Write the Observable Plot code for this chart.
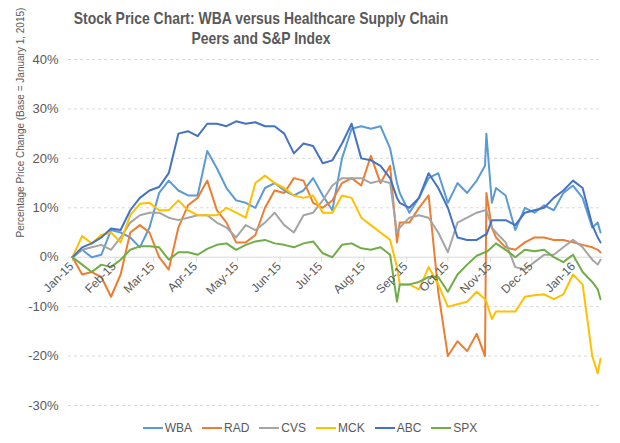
<!DOCTYPE html>
<html><head><meta charset="utf-8">
<script src="https://cdn.jsdelivr.net/npm/d3@7"></script>
<script src="https://cdn.jsdelivr.net/npm/@observablehq/plot@0.6"></script>
<style>
html,body{margin:0;padding:0;background:#fff;}
#wrap{position:relative;width:620px;height:443px;overflow:hidden;font-family:"Liberation Sans",Arial,sans-serif;background:#fff;}
#title{position:absolute;left:0;top:9px;width:522px;text-align:center;font-family:"Liberation Sans",Arial,sans-serif;font-weight:bold;font-size:17px;line-height:20px;color:#595959;white-space:nowrap;transform:scaleX(0.82);transform-origin:261px 0;}
#chart{position:absolute;left:0;top:50px;}
#legend{position:absolute;left:0;top:415px;width:620px;height:26px;display:flex;justify-content:center;align-items:center;font-size:12px;color:#595959;}
.item{display:flex;align-items:center;margin:0 5px;}
.swatch{width:20px;height:2px;margin-right:2px;}
</style></head><body>
<div id="wrap">
<div id="title">Stock Price Chart: WBA versus Healthcare Supply Chain<br>Peers and S&amp;P Index</div>
<div id="chart"></div>
<div id="legend"></div>
</div>
<script>
const dates = ["2015-01-01","2015-01-08","2015-01-15","2015-01-22","2015-01-29","2015-02-05","2015-02-12","2015-02-19","2015-02-26","2015-03-05","2015-03-12","2015-03-19","2015-03-26","2015-04-02","2015-04-09","2015-04-16","2015-04-23","2015-04-30","2015-05-07","2015-05-14","2015-05-21","2015-05-28","2015-06-04","2015-06-11","2015-06-18","2015-06-25","2015-07-02","2015-07-09","2015-07-16","2015-07-23","2015-07-30","2015-08-06","2015-08-13","2015-08-20","2015-08-25","2015-08-27","2015-09-03","2015-09-10","2015-09-17","2015-09-24","2015-10-01","2015-10-08","2015-10-15","2015-10-22","2015-10-28","2015-10-29","2015-11-02","2015-11-05","2015-11-12","2015-11-19","2015-11-26","2015-12-03","2015-12-10","2015-12-17","2015-12-24","2015-12-31","2016-01-07","2016-01-14","2016-01-18","2016-01-20"];

const WBA = [0,1.5,0,0.5,5.5,5,4,2,6,13,15.5,13.5,12.5,12.5,21.5,18,14,11.5,11,10,14,15,13.5,12.5,13.5,16,12.5,9.5,20,26,26.5,26,26.5,22,15,13,9,12,16,17,11,15,13,15.5,18.5,25,11,14,12.5,5.5,10,9,10.5,9.5,13,14.5,12,6,7,5];
const RAD = [0,-3.5,-3,-4,-8,-3.5,5,6.5,5,0,-2.5,6,10.5,12,15.5,9.5,7,3,3,4.5,10,13.5,13,16,15.5,11,10,11.5,15,16,14.5,20.5,15,18.5,3,7,7,10,12.5,-7,-20,-17,-19,-15.5,-20,13,6,4,2,1.5,3,4,4,3.5,3.5,3,2.5,2,1.5,1];
const CVS = [0,1.5,2,2.5,1.5,4,7,8.5,9,9,8,7.5,8,8.5,8.5,7,6,4,6.5,5.5,7,9,6.5,5,8.5,9,11.5,14.5,16,16,16,15,15.5,15,5,6,8,8.5,8,5,1,7,8,9,9.5,9.5,6,5,3,-2,-2.5,-1,0.5,0.5,2,3.5,2,-0.5,-1.5,-0.5];
const MCK = [0,4.3,2.8,4.5,5,3,8.5,10.8,11,9.5,9.5,11.5,9.5,8.5,8.5,8.5,10,9,8,15,16.5,15,14,12.5,12,12.5,9,9,12.5,12,8,6.5,5,3.5,-2,-5.5,-5.5,-6.5,-2,-5.5,-10,-9.5,-9,-7,-8.5,-9,-12.5,-11,-11,-11,-8,-7.7,-7.5,-8.5,-7.5,-3.5,-5.5,-20,-23.5,-20.5];
const ABC = [0,2,2.8,4,5.8,5.5,9.5,12,13.5,14.2,17,25,25.5,24.5,27,27,26.5,27.5,27,27.3,26.5,26.5,25,21,23,22.5,19,19.6,23,27,20,19.6,18.5,16,12,11,10,12,17,14,10,4,3.5,3.5,4.5,4.5,7.5,7.5,7.5,6.5,9,9.5,10,12,13.5,15.5,14,6.5,4,3];
const SPX = [0,-1.5,-3,-1.5,-2,-0.5,1.5,2.2,2.2,2,-0.5,1,1,0.5,1.7,2.5,2.8,1.5,2.5,3.2,3.5,2.8,2.5,2,2.8,3.2,0.8,0,2.5,2.8,1.8,1.5,2,0.5,-9,-5.5,-5.5,-5,-4,-4,-7,-3.5,-1.5,0.3,1,1,2,2.8,1.5,0,1.5,1.2,1.5,0,-1,0.5,-3,-5,-6.5,-8.5];

const seriesNames = ["WBA","RAD","CVS","MCK","ABC","SPX"];
const seriesColors = ["#5B9BD5","#ED7D31","#A5A5A5","#FFC000","#4472C4","#70AD47"];
const seriesValues = [WBA, RAD, CVS, MCK, ABC, SPX];

const yTicks = [40,30,20,10,0,-10,-20,-30];
const tickDates = ["2015-01-01","2015-02-01","2015-03-01","2015-04-01","2015-05-01","2015-06-01","2015-07-01","2015-08-01","2015-09-01","2015-10-01","2015-11-01","2015-12-01","2016-01-01"];
const tickLabels = ["Jan-15","Feb-15","Mar-15","Apr-15","May-15","Jun-15","Jul-15","Aug-15","Sep-15","Oct-15","Nov-15","Dec-15","Jan-16"];
const yLabel = "Percentage Price Change (Base = January 1, 2015)";

const parse = d3.utcParse("%Y-%m-%d");
const X = dates.map(parse);
const x0 = parse("2015-01-01"), x1 = parse("2016-01-20");
const ticks = tickDates.map((d,i)=>({date: parse(d), label: tickLabels[i]}));

const marks = [];
marks.push(Plot.ruleY(yTicks.filter(v=>v!==0), {y:d=>d, stroke:"#D9D9D9", strokeWidth:1, strokeDasharray:"3,3", insetLeft:-4, insetRight:-2}));
marks.push(Plot.ruleY([0], {y:d=>d, stroke:"#D9D9D9", strokeWidth:1, insetLeft:-4, insetRight:-2}));
marks.push(Plot.ruleX(ticks, {x:"date", y1:0, y2:-1, stroke:"#D9D9D9"}));
seriesValues.forEach((vals, k) => {
  const data = vals.map((v,i)=>({date: X[i], value: v}));
  marks.push(Plot.lineY(data, {x:"date", y:"value", stroke: seriesColors[k], strokeWidth: 2}));
});
marks.push(Plot.text(ticks, {x:"date", y:()=>0, text:"label", rotate:-45, textAnchor:"end", dx:-1, dy:7, fontSize:12, fill:"#595959"}));
marks.push(Plot.text(yTicks, {x:()=>x0, y:d=>d, text:d=>d+"%", textAnchor:"end", dx:-14, fontSize:13, fill:"#595959"}));
marks.push(Plot.text([yLabel], {frameAnchor:"left", text:d=>d, dx:-52, dy:5, rotate:-90, fontSize:10, fill:"#595959"}));

const chart = Plot.plot({
  width: 620, height: 365,
  marginLeft: 72, marginRight: 20, marginTop: 9, marginBottom: 10,
  x: {type:"utc", domain:[x0, x1], axis:null},
  y: {domain:[-30, 40], axis:null},
  style: {background:"white", fontFamily:"'Liberation Sans', Arial, sans-serif", overflow:"visible"},
  marks
});
document.getElementById("chart").appendChild(chart);

const legend = document.getElementById("legend");
seriesNames.forEach((n,k)=>{
  const item = document.createElement("div"); item.className="item";
  const sw = document.createElement("span"); sw.className="swatch"; sw.style.background=seriesColors[k];
  const t = document.createElement("span"); t.textContent=n;
  item.appendChild(sw); item.appendChild(t); legend.appendChild(item);
});
</script>
</body></html>
